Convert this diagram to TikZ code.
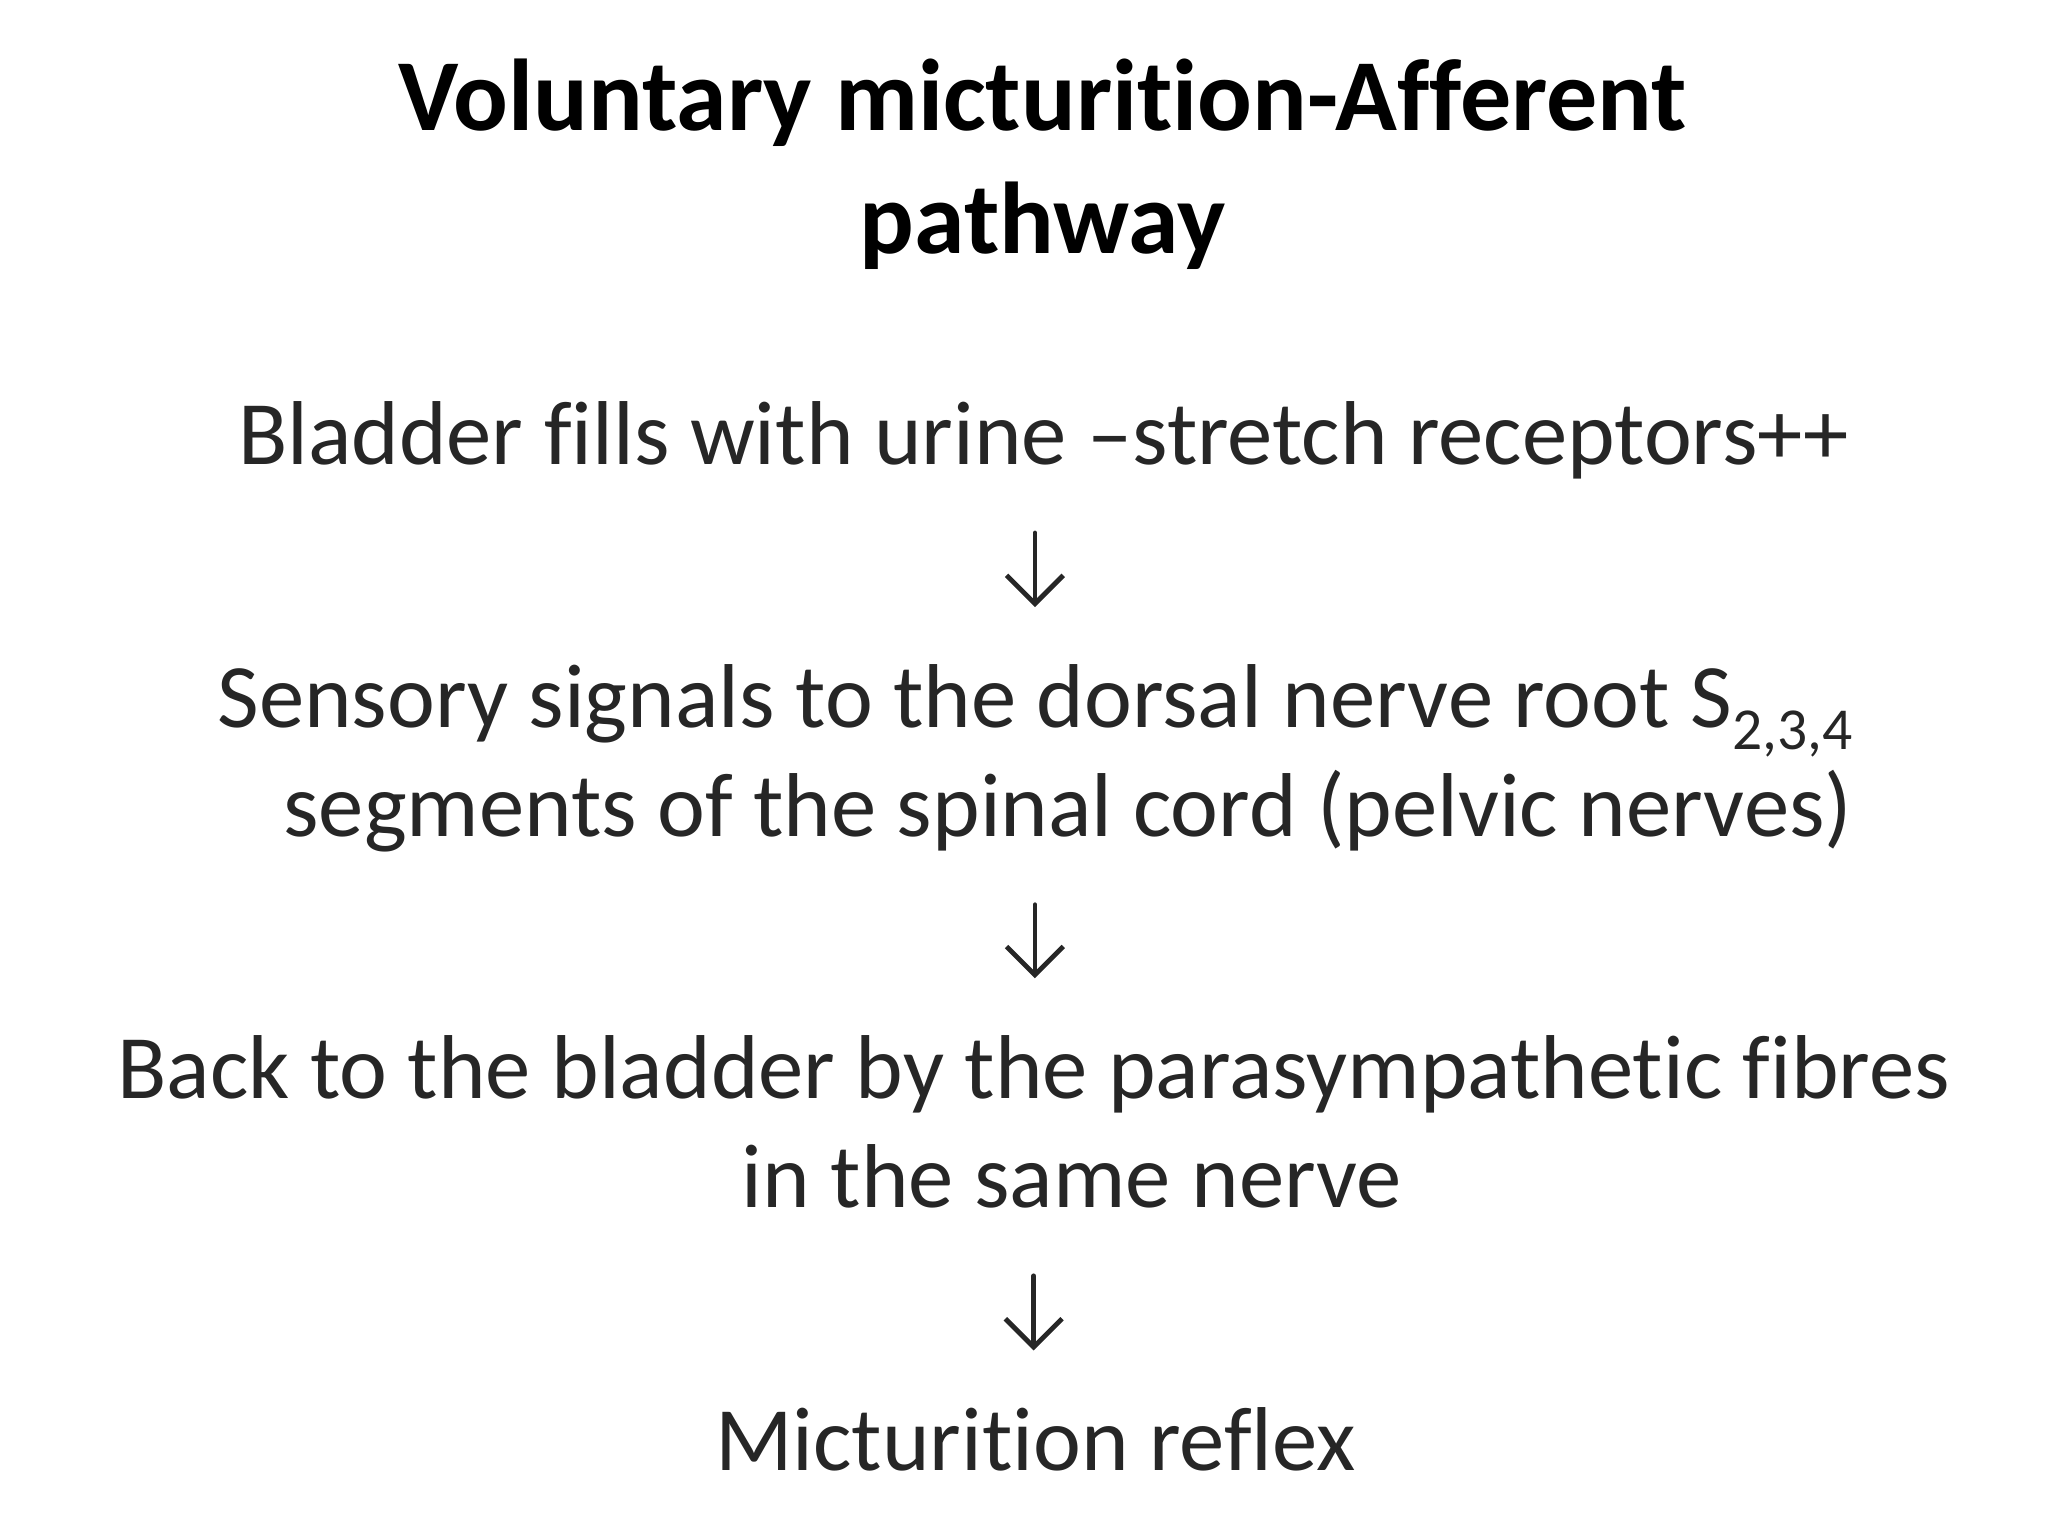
\documentclass[tikz,border=0pt]{standalone}
\usepackage{fontspec}
\setmainfont{Carlito}[Ligatures=NoCommon]
\usetikzlibrary{positioning,arrows.meta}
\definecolor{ink1}{HTML}{262626}

\begin{document}
\begin{tikzpicture}[
    heading/.style={font=\bfseries\fontsize{36}{43.5}\selectfont,
                    align=center, inner sep=0pt, anchor=base},
    stage/.style={font=\fontsize{32}{38.6}\selectfont, text=ink1,
                  inner sep=0pt, anchor=base},
    flow/.style={-{Straight Barb[length=10pt,width=20pt]}, line width=1.7pt,
                 color=ink1, line cap=round,
                 shorten <=24pt, shorten >=20pt},
]
\useasboundingbox (0,0) rectangle (25.4,-19.05);

% ── Title ──
\node[heading] (head) at (12.93,-3.143)
    {Voluntary micturition-Afferent\\pathway};

% ── Steps ──
\node[stage] (fill) at (12.94,-5.767)
    {Bladder fills with urine –stretch receptors++};
\node[stage, align=right, anchor=base east] (sense) at (22.98,-10.377)
    {Sensory signals to the dorsal nerve root
     S\raisebox{-8pt}{\fontsize{21}{21}\selectfont 2,3,4}\\
     segments of the spinal cord (pelvic nerves)};
\node[stage, align=center] (back) at (12.82,-14.98)
    {Back to the bladder by the parasympathetic fibres\\
     \hspace*{27pt}in the same nerve};
\node[stage] (reflex) at (12.84,-18.24) {Micturition reflex};

% ── Arrows ──
\draw[flow] (fill.base -| sense.north) -- (sense.north);
\draw[flow] (sense.base) -- (sense.base |- back.north);
\draw[flow] (back.base) -- (back.base |- reflex.north);

\end{tikzpicture}
\end{document}
